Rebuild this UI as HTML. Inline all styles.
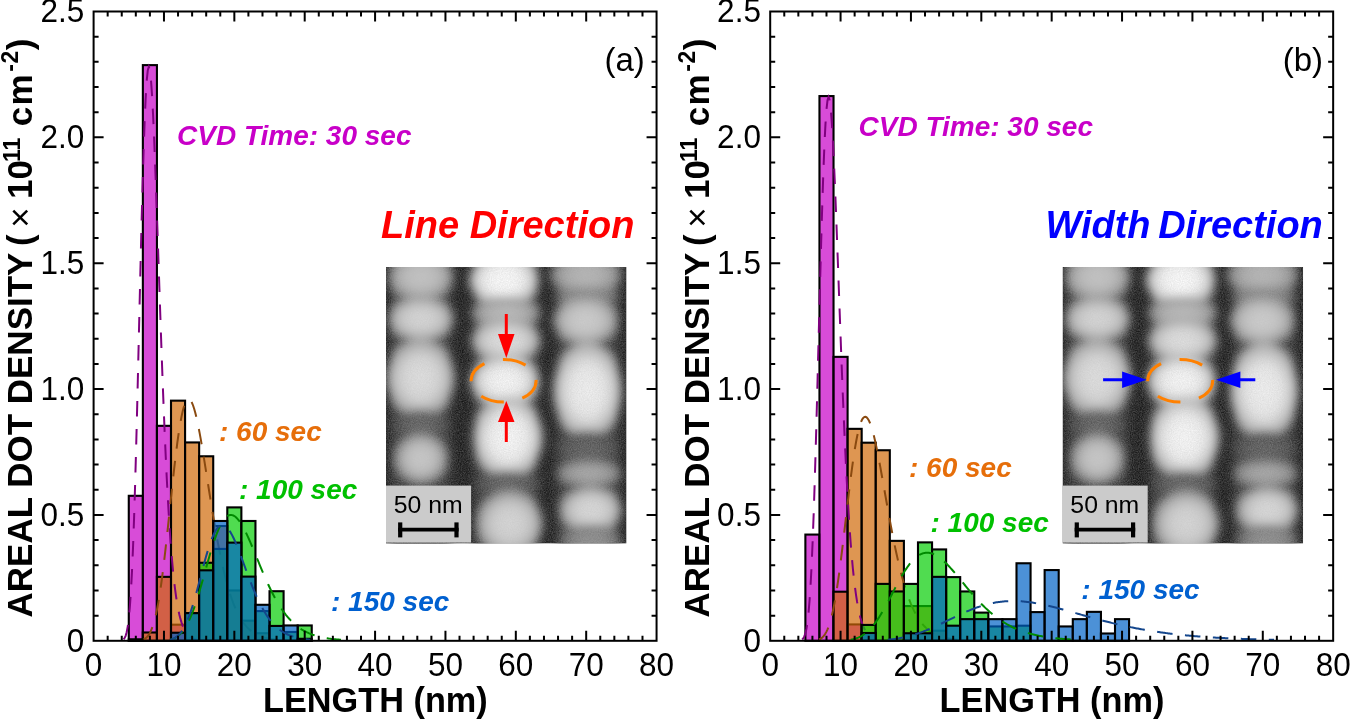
<!DOCTYPE html>
<html><head><meta charset="utf-8"><title>Areal dot density histograms</title>
<style>
html,body{margin:0;padding:0;background:#fff;}
body{width:1350px;height:719px;overflow:hidden;}
svg{display:block;font-family:"Liberation Sans",sans-serif;filter:blur(0.4px);}
</style></head><body>
<svg width="1350" height="719" viewBox="0 0 1350 719">
<defs>
<filter id="bl" x="-20%" y="-20%" width="140%" height="140%"><feGaussianBlur stdDeviation="5"/></filter>
<filter id="nz" x="0" y="0" width="100%" height="100%"><feTurbulence type="fractalNoise" baseFrequency="0.9" numOctaves="2" seed="3"/><feColorMatrix type="matrix" values="0 0 0 0 0.5  0 0 0 0 0.5  0 0 0 0 0.5  1.6 0 0 0 -0.3"/></filter>
<clipPath id="ic"><rect x="0" y="0" width="240.5" height="276.5"/></clipPath>
<g id="sem">
<radialGradient id="g0"><stop offset="0" stop-color="rgb(197,197,197)"/><stop offset="0.55" stop-color="rgb(185,185,185)"/><stop offset="1" stop-color="rgb(133,133,133)"/></radialGradient><radialGradient id="g1"><stop offset="0" stop-color="rgb(217,217,217)"/><stop offset="0.55" stop-color="rgb(205,205,205)"/><stop offset="1" stop-color="rgb(147,147,147)"/></radialGradient><radialGradient id="g2"><stop offset="0" stop-color="rgb(226,226,226)"/><stop offset="0.55" stop-color="rgb(214,214,214)"/><stop offset="1" stop-color="rgb(154,154,154)"/></radialGradient><radialGradient id="g3"><stop offset="0" stop-color="rgb(97,97,97)"/><stop offset="0.55" stop-color="rgb(85,85,85)"/><stop offset="1" stop-color="rgb(61,61,61)"/></radialGradient><radialGradient id="g4"><stop offset="0" stop-color="rgb(202,202,202)"/><stop offset="0.55" stop-color="rgb(190,190,190)"/><stop offset="1" stop-color="rgb(136,136,136)"/></radialGradient><radialGradient id="g5"><stop offset="0" stop-color="rgb(255,255,255)"/><stop offset="0.55" stop-color="rgb(245,245,245)"/><stop offset="1" stop-color="rgb(176,176,176)"/></radialGradient><radialGradient id="g6"><stop offset="0" stop-color="rgb(187,187,187)"/><stop offset="0.55" stop-color="rgb(175,175,175)"/><stop offset="1" stop-color="rgb(126,126,126)"/></radialGradient><radialGradient id="g7"><stop offset="0" stop-color="rgb(227,227,227)"/><stop offset="0.55" stop-color="rgb(215,215,215)"/><stop offset="1" stop-color="rgb(154,154,154)"/></radialGradient><radialGradient id="g8"><stop offset="0" stop-color="rgb(252,252,252)"/><stop offset="0.55" stop-color="rgb(240,240,240)"/><stop offset="1" stop-color="rgb(172,172,172)"/></radialGradient><radialGradient id="g9"><stop offset="0" stop-color="rgb(252,252,252)"/><stop offset="0.55" stop-color="rgb(240,240,240)"/><stop offset="1" stop-color="rgb(172,172,172)"/></radialGradient><radialGradient id="g10"><stop offset="0" stop-color="rgb(97,97,97)"/><stop offset="0.55" stop-color="rgb(85,85,85)"/><stop offset="1" stop-color="rgb(61,61,61)"/></radialGradient><radialGradient id="g11"><stop offset="0" stop-color="rgb(217,217,217)"/><stop offset="0.55" stop-color="rgb(205,205,205)"/><stop offset="1" stop-color="rgb(147,147,147)"/></radialGradient><radialGradient id="g12"><stop offset="0" stop-color="rgb(182,182,182)"/><stop offset="0.55" stop-color="rgb(170,170,170)"/><stop offset="1" stop-color="rgb(122,122,122)"/></radialGradient><radialGradient id="g13"><stop offset="0" stop-color="rgb(142,142,142)"/><stop offset="0.55" stop-color="rgb(130,130,130)"/><stop offset="1" stop-color="rgb(93,93,93)"/></radialGradient><radialGradient id="g14"><stop offset="0" stop-color="rgb(207,207,207)"/><stop offset="0.55" stop-color="rgb(195,195,195)"/><stop offset="1" stop-color="rgb(140,140,140)"/></radialGradient><radialGradient id="g15"><stop offset="0" stop-color="rgb(244,244,244)"/><stop offset="0.55" stop-color="rgb(232,232,232)"/><stop offset="1" stop-color="rgb(167,167,167)"/></radialGradient><radialGradient id="g16"><stop offset="0" stop-color="rgb(92,92,92)"/><stop offset="0.55" stop-color="rgb(80,80,80)"/><stop offset="1" stop-color="rgb(57,57,57)"/></radialGradient><radialGradient id="g17"><stop offset="0" stop-color="rgb(167,167,167)"/><stop offset="0.55" stop-color="rgb(155,155,155)"/><stop offset="1" stop-color="rgb(111,111,111)"/></radialGradient><radialGradient id="g18"><stop offset="0" stop-color="rgb(220,220,220)"/><stop offset="0.55" stop-color="rgb(208,208,208)"/><stop offset="1" stop-color="rgb(149,149,149)"/></radialGradient><radialGradient id="g19"><stop offset="0" stop-color="rgb(142,142,142)"/><stop offset="0.55" stop-color="rgb(130,130,130)"/><stop offset="1" stop-color="rgb(93,93,93)"/></radialGradient>
<rect x="0" y="0" width="240.5" height="276.5" fill="#151515"/>
<g filter="url(#bl)">
<rect x="4" y="-20" width="61" height="320" fill="#303030"/>
<rect x="88" y="-20" width="64" height="320" fill="#303030"/>
<rect x="171" y="-20" width="62" height="320" fill="#303030"/>
<ellipse cx="35" cy="10" rx="33" ry="24" fill="url(#g0)"/>
<ellipse cx="35" cy="52" rx="33" ry="22" fill="url(#g1)"/>
<ellipse cx="34.5" cy="111" rx="34.5" ry="39" fill="url(#g2)"/>
<ellipse cx="35" cy="157.5" rx="28" ry="14.5" fill="url(#g3)"/>
<ellipse cx="35" cy="191.5" rx="26" ry="24.5" fill="url(#g4)"/>
<ellipse cx="118" cy="13" rx="35" ry="27" fill="url(#g5)"/>
<ellipse cx="120" cy="46" rx="35" ry="16" fill="url(#g6)"/>
<ellipse cx="120" cy="73.5" rx="35" ry="21.5" fill="url(#g7)"/>
<ellipse cx="119" cy="114" rx="35" ry="26" fill="url(#g8)"/>
<ellipse cx="122" cy="170.5" rx="35" ry="40.5" fill="url(#g9)"/>
<ellipse cx="122" cy="217" rx="33" ry="13" fill="url(#g10)"/>
<ellipse cx="124" cy="256.5" rx="33" ry="32.5" fill="url(#g11)"/>
<ellipse cx="200" cy="8" rx="36" ry="22" fill="url(#g12)"/>
<ellipse cx="201" cy="29.5" rx="34" ry="7.5" fill="url(#g13)"/>
<ellipse cx="199.5" cy="53.5" rx="32.5" ry="24.5" fill="url(#g14)"/>
<ellipse cx="201.5" cy="123.5" rx="34.5" ry="47.5" fill="url(#g15)"/>
<ellipse cx="202" cy="182" rx="33" ry="18" fill="url(#g16)"/>
<ellipse cx="203" cy="206.5" rx="33" ry="13.5" fill="url(#g17)"/>
<ellipse cx="205" cy="243" rx="31" ry="23" fill="url(#g18)"/>
<ellipse cx="205" cy="273.5" rx="31" ry="15.5" fill="url(#g19)"/>
</g>
<rect x="0" y="0" width="240.5" height="276.5" filter="url(#nz)" opacity="0.3"/>
<rect x="0" y="218.6" width="85.1" height="57" fill="#cbcbcb"/>
<text x="42.2" y="246.2" text-anchor="middle" font-size="24.8">50 nm</text>
<path d="M12.1 262.7H72.6" stroke="#000" stroke-width="3.8"/><rect x="12.1" y="255.4" width="4.2" height="15"/><rect x="68.4" y="255.4" width="4.2" height="15"/>
</g>
</defs>
<rect width="1350" height="719" fill="#fff"/>
<rect x="128.78" y="495.81" width="14.07" height="144.99" fill="#c800c8" fill-opacity="0.7" stroke="#000" stroke-width="2.1"/>
<rect x="142.86" y="65.12" width="14.07" height="575.68" fill="#c800c8" fill-opacity="0.7" stroke="#000" stroke-width="2.1"/>
<rect x="156.93" y="425.83" width="14.07" height="214.97" fill="#c800c8" fill-opacity="0.7" stroke="#000" stroke-width="2.1"/>
<rect x="171.01" y="624.69" width="14.07" height="16.11" fill="#c800c8" fill-opacity="0.7" stroke="#000" stroke-width="2.1"/>
<rect x="128.78" y="639.29" width="14.07" height="1.51" fill="#d06908" fill-opacity="0.7" stroke="#000" stroke-width="2.1"/>
<rect x="142.86" y="632.49" width="14.07" height="8.31" fill="#d06908" fill-opacity="0.7" stroke="#000" stroke-width="2.1"/>
<rect x="156.93" y="576.86" width="14.07" height="63.94" fill="#d06908" fill-opacity="0.7" stroke="#000" stroke-width="2.1"/>
<rect x="171.01" y="400.66" width="14.07" height="240.14" fill="#d06908" fill-opacity="0.7" stroke="#000" stroke-width="2.1"/>
<rect x="185.08" y="442.44" width="14.07" height="198.36" fill="#d06908" fill-opacity="0.7" stroke="#000" stroke-width="2.1"/>
<rect x="199.15" y="456.29" width="14.07" height="184.51" fill="#d06908" fill-opacity="0.7" stroke="#000" stroke-width="2.1"/>
<rect x="213.23" y="526.02" width="14.07" height="114.78" fill="#d06908" fill-opacity="0.7" stroke="#000" stroke-width="2.1"/>
<rect x="227.3" y="590.46" width="14.07" height="50.34" fill="#d06908" fill-opacity="0.7" stroke="#000" stroke-width="2.1"/>
<rect x="241.38" y="620.66" width="14.07" height="20.14" fill="#d06908" fill-opacity="0.7" stroke="#000" stroke-width="2.1"/>
<rect x="255.45" y="633.25" width="14.07" height="7.55" fill="#d06908" fill-opacity="0.7" stroke="#000" stroke-width="2.1"/>
<polyline points="123.51,639.39 124.56,638.07 125.62,635.82 126.67,632.19 127.73,626.62 128.78,618.49 129.84,607.12 130.9,591.89 131.95,572.26 133.01,547.86 134.06,518.59 135.12,484.61 136.17,446.42 137.23,404.79 138.28,360.8 139.34,315.7 140.4,270.89 141.45,227.81 142.51,187.83 143.56,152.19 144.62,121.96 145.67,97.93 146.73,80.62 147.78,70.28 148.84,66.88 149.9,70.15 150.95,79.62 152.01,94.64 153.06,114.48 154.12,138.29 155.17,165.25 156.23,194.51 157.28,225.28 158.34,256.82 159.4,288.5 160.45,319.74 161.51,350.1 162.56,379.19 163.62,406.73 164.67,432.53 165.73,456.47 166.78,478.46 167.84,498.51 168.9,516.66 169.95,532.95 171.01,547.5 172.06,560.39 173.12,571.77 174.17,581.75 175.23,590.45 176.28,598.02 177.34,604.56 178.4,610.19 179.45,615.02 180.51,619.14 181.56,622.65 182.62,625.63 183.67,628.15 184.73,630.28 185.78,632.07 186.84,633.56 187.9,634.82 188.95,635.86 190.01,636.73 191.06,637.45 192.12,638.05 193.17,638.55 194.23,638.96 195.28,639.29 196.34,639.57" fill="none" stroke="#800080" stroke-width="2" stroke-dasharray="15.5 12.5"/>
<polyline points="143.56,639.41 144.62,638.87 145.67,638.16 146.73,637.25 147.78,636.1 148.84,634.67 149.9,632.91 150.95,630.79 152.01,628.25 153.06,625.26 154.12,621.77 155.17,617.77 156.23,613.2 157.28,608.07 158.34,602.36 159.4,596.05 160.45,589.18 161.51,581.74 162.56,573.78 163.62,565.33 164.67,556.44 165.73,547.17 166.78,537.59 167.84,527.78 168.9,517.81 169.95,507.77 171.01,497.74 172.06,487.82 173.12,478.09 174.17,468.64 175.23,459.55 176.28,450.89 177.34,442.74 178.4,435.16 179.45,428.22 180.51,421.95 181.56,416.39 182.62,411.59 183.67,407.56 184.73,404.32 185.78,401.87 186.84,400.2 187.9,399.32 188.95,399.19 190.01,399.8 191.06,401.12 192.12,403.11 193.17,405.74 194.23,408.96 195.28,412.72 196.34,416.99 197.4,421.71 198.45,426.84 199.51,432.32 200.56,438.11 201.62,444.17 202.67,450.44 203.73,456.88 204.78,463.45 205.84,470.11 206.9,476.82 207.95,483.55 209.01,490.27 210.06,496.94 211.12,503.54 212.17,510.04 213.23,516.43 214.28,522.69 215.34,528.79 216.4,534.73 217.45,540.49 218.51,546.06 219.56,551.44 220.62,556.62 221.67,561.6 222.73,566.37 223.78,570.94 224.84,575.3 225.9,579.45 226.95,583.4 228.01,587.15 229.06,590.71 230.12,594.08 231.17,597.26 232.23,600.27 233.28,603.1 234.34,605.76 235.4,608.26 236.45,610.61 237.51,612.82 238.56,614.88 239.62,616.81 240.67,618.61 241.73,620.29 242.78,621.86 243.84,623.32 244.9,624.67 245.95,625.94 247.01,627.11 248.06,628.19 249.12,629.2 250.17,630.14 251.23,631 252.28,631.8 253.34,632.54 254.4,633.22 255.45,633.85 256.51,634.43 257.56,634.96 258.62,635.45 259.67,635.91 260.73,636.32 261.78,636.71 262.84,637.06 263.9,637.38 264.95,637.68 266.01,637.95 267.06,638.2 268.12,638.43 269.17,638.64 270.23,638.83 271.28,639 272.34,639.16 273.4,639.31 274.45,639.44 275.51,639.56 276.56,639.67 277.62,639.78" fill="none" stroke="#8a4a10" stroke-width="2" stroke-dasharray="15.5 12.5"/>
<rect x="185.08" y="613.11" width="14.07" height="27.69" fill="#05cd05" fill-opacity="0.7" stroke="#000" stroke-width="2.1"/>
<rect x="199.15" y="562.77" width="14.07" height="78.03" fill="#05cd05" fill-opacity="0.7" stroke="#000" stroke-width="2.1"/>
<rect x="213.23" y="548.92" width="14.07" height="91.88" fill="#05cd05" fill-opacity="0.7" stroke="#000" stroke-width="2.1"/>
<rect x="227.3" y="507.39" width="14.07" height="133.41" fill="#05cd05" fill-opacity="0.7" stroke="#000" stroke-width="2.1"/>
<rect x="241.38" y="520.98" width="14.07" height="119.82" fill="#05cd05" fill-opacity="0.7" stroke="#000" stroke-width="2.1"/>
<rect x="255.45" y="611.1" width="14.07" height="29.7" fill="#05cd05" fill-opacity="0.7" stroke="#000" stroke-width="2.1"/>
<rect x="269.52" y="591.21" width="14.07" height="49.59" fill="#05cd05" fill-opacity="0.7" stroke="#000" stroke-width="2.1"/>
<rect x="283.6" y="631.99" width="14.07" height="8.81" fill="#05cd05" fill-opacity="0.7" stroke="#000" stroke-width="2.1"/>
<rect x="297.67" y="625.45" width="14.07" height="15.35" fill="#05cd05" fill-opacity="0.7" stroke="#000" stroke-width="2.1"/>
<rect x="171.01" y="632.74" width="14.07" height="8.06" fill="#0062c6" fill-opacity="0.7" stroke="#000" stroke-width="2.1"/>
<rect x="185.08" y="613.11" width="14.07" height="27.69" fill="#0062c6" fill-opacity="0.7" stroke="#000" stroke-width="2.1"/>
<rect x="199.15" y="570.32" width="14.07" height="70.48" fill="#0062c6" fill-opacity="0.7" stroke="#000" stroke-width="2.1"/>
<rect x="213.23" y="520.98" width="14.07" height="119.82" fill="#0062c6" fill-opacity="0.7" stroke="#000" stroke-width="2.1"/>
<rect x="227.3" y="542.63" width="14.07" height="98.17" fill="#0062c6" fill-opacity="0.7" stroke="#000" stroke-width="2.1"/>
<rect x="241.38" y="576.61" width="14.07" height="64.19" fill="#0062c6" fill-opacity="0.7" stroke="#000" stroke-width="2.1"/>
<rect x="255.45" y="604.8" width="14.07" height="36" fill="#0062c6" fill-opacity="0.7" stroke="#000" stroke-width="2.1"/>
<rect x="269.52" y="625.95" width="14.07" height="14.85" fill="#0062c6" fill-opacity="0.7" stroke="#000" stroke-width="2.1"/>
<rect x="283.6" y="625.45" width="14.07" height="15.35" fill="#0062c6" fill-opacity="0.7" stroke="#000" stroke-width="2.1"/>
<rect x="297.67" y="638.79" width="14.07" height="2.01" fill="#0062c6" fill-opacity="0.7" stroke="#000" stroke-width="2.1"/>
<polyline points="169.95,639.72 171.01,639.46 172.06,639.14 173.12,638.76 174.17,638.32 175.23,637.8 176.28,637.2 177.34,636.51 178.4,635.72 179.45,634.82 180.51,633.8 181.56,632.66 182.62,631.39 183.67,629.99 184.73,628.44 185.78,626.74 186.84,624.89 187.9,622.88 188.95,620.72 190.01,618.4 191.06,615.92 192.12,613.29 193.17,610.51 194.23,607.59 195.28,604.53 196.34,601.34 197.4,598.04 198.45,594.62 199.51,591.11 200.56,587.52 201.62,583.86 202.67,580.15 203.73,576.4 204.78,572.63 205.84,568.86 206.9,565.1 207.95,561.38 209.01,557.7 210.06,554.09 211.12,550.57 212.17,547.14 213.23,543.83 214.28,540.64 215.34,537.6 216.4,534.71 217.45,531.99 218.51,529.45 219.56,527.09 220.62,524.93 221.67,522.97 222.73,521.22 223.78,519.68 224.84,518.36 225.9,517.25 226.95,516.36 228.01,515.69 229.06,515.23 230.12,514.99 231.17,514.95 232.23,515.12 233.28,515.49 234.34,516.05 235.4,516.8 236.45,517.73 237.51,518.82 238.56,520.08 239.62,521.49 240.67,523.05 241.73,524.74 242.78,526.55 243.84,528.48 244.9,530.51 245.95,532.64 247.01,534.85 248.06,537.14 249.12,539.49 250.17,541.9 251.23,544.36 252.28,546.86 253.34,549.39 254.4,551.94 255.45,554.51 256.51,557.09 257.56,559.66 258.62,562.24 259.67,564.8 260.73,567.34 261.78,569.86 262.84,572.36 263.9,574.82 264.95,577.25 266.01,579.64 267.06,581.98 268.12,584.28 269.17,586.54 270.23,588.74 271.28,590.89 272.34,592.98 273.4,595.02 274.45,597.01 275.51,598.93 276.56,600.8 277.62,602.61 278.67,604.36 279.73,606.05 280.78,607.69 281.84,609.27 282.9,610.79 283.95,612.25 285.01,613.66 286.06,615.01 287.12,616.31 288.17,617.55 289.23,618.75 290.28,619.89 291.34,620.99 292.4,622.03 293.45,623.03 294.51,623.99 295.56,624.9 296.62,625.77 297.67,626.6 298.73,627.38 299.78,628.13 300.84,628.85 301.9,629.53 302.95,630.17 304.01,630.78 305.06,631.36 306.12,631.91 307.17,632.43 308.23,632.92 309.28,633.39 310.34,633.83 311.4,634.25 312.45,634.65 313.51,635.02 314.56,635.37 315.62,635.7 316.67,636.02 317.73,636.31 318.78,636.59 319.84,636.85 320.9,637.1 321.95,637.33 323.01,637.55 324.06,637.76 325.12,637.95 326.17,638.14 327.23,638.31 328.28,638.47 329.34,638.62 330.4,638.76 331.45,638.89 332.51,639.02 333.56,639.14 334.62,639.25 335.67,639.35 336.73,639.45 337.78,639.54 338.84,639.62 339.89,639.7 340.95,639.77" fill="none" stroke="#008a00" stroke-width="2" stroke-dasharray="15.5 12.5"/>
<polyline points="169.95,639.78 171.01,639.49 172.06,639.14 173.12,638.72 174.17,638.22 175.23,637.62 176.28,636.92 177.34,636.1 178.4,635.15 179.45,634.06 180.51,632.82 181.56,631.42 182.62,629.85 183.67,628.11 184.73,626.17 185.78,624.05 186.84,621.73 187.9,619.23 188.95,616.53 190.01,613.64 191.06,610.57 192.12,607.33 193.17,603.93 194.23,600.38 195.28,596.7 196.34,592.9 197.4,589.01 198.45,585.05 199.51,581.04 200.56,577 201.62,572.96 202.67,568.94 203.73,564.98 204.78,561.08 205.84,557.29 206.9,553.62 207.95,550.1 209.01,546.74 210.06,543.58 211.12,540.62 212.17,537.89 213.23,535.39 214.28,533.15 215.34,531.17 216.4,529.45 217.45,528.02 218.51,526.86 219.56,525.98 220.62,525.39 221.67,525.07 222.73,525.02 223.78,525.25 224.84,525.73 225.9,526.46 226.95,527.42 228.01,528.62 229.06,530.03 230.12,531.64 231.17,533.43 232.23,535.4 233.28,537.52 234.34,539.79 235.4,542.17 236.45,544.67 237.51,547.27 238.56,549.94 239.62,552.68 240.67,555.48 241.73,558.31 242.78,561.17 243.84,564.04 244.9,566.92 245.95,569.79 247.01,572.64 248.06,575.46 249.12,578.25 250.17,581 251.23,583.7 252.28,586.35 253.34,588.94 254.4,591.46 255.45,593.91 256.51,596.3 257.56,598.6 258.62,600.84 259.67,602.99 260.73,605.07 261.78,607.06 262.84,608.98 263.9,610.82 264.95,612.57 266.01,614.25 267.06,615.86 268.12,617.38 269.17,618.83 270.23,620.22 271.28,621.53 272.34,622.77 273.4,623.94 274.45,625.05 275.51,626.1 276.56,627.09 277.62,628.03 278.67,628.9 279.73,629.73 280.78,630.51 281.84,631.23 282.9,631.92 283.95,632.55 285.01,633.15 286.06,633.71 287.12,634.23 288.17,634.72 289.23,635.18 290.28,635.6 291.34,636 292.4,636.36 293.45,636.7 294.51,637.02 295.56,637.32 296.62,637.59 297.67,637.84 298.73,638.08 299.78,638.29 300.84,638.49 301.9,638.68 302.95,638.85 304.01,639.01 305.06,639.16 306.12,639.29 307.17,639.42 308.23,639.53 309.28,639.64 310.34,639.74" fill="none" stroke="#14468c" stroke-width="2" stroke-dasharray="15.5 12.5"/>
<path d="M107.67 640.8v-5 M107.67 11.5v5 M121.75 640.8v-5 M121.75 11.5v5 M135.82 640.8v-5 M135.82 11.5v5 M149.9 640.8v-5 M149.9 11.5v5 M163.97 640.8v-10 M163.97 11.5v10 M178.04 640.8v-5 M178.04 11.5v5 M192.12 640.8v-5 M192.12 11.5v5 M206.19 640.8v-5 M206.19 11.5v5 M220.27 640.8v-5 M220.27 11.5v5 M234.34 640.8v-10 M234.34 11.5v10 M248.41 640.8v-5 M248.41 11.5v5 M262.49 640.8v-5 M262.49 11.5v5 M276.56 640.8v-5 M276.56 11.5v5 M290.64 640.8v-5 M290.64 11.5v5 M304.71 640.8v-10 M304.71 11.5v10 M318.78 640.8v-5 M318.78 11.5v5 M332.86 640.8v-5 M332.86 11.5v5 M346.93 640.8v-5 M346.93 11.5v5 M361.01 640.8v-5 M361.01 11.5v5 M375.08 640.8v-10 M375.08 11.5v10 M389.15 640.8v-5 M389.15 11.5v5 M403.23 640.8v-5 M403.23 11.5v5 M417.3 640.8v-5 M417.3 11.5v5 M431.38 640.8v-5 M431.38 11.5v5 M445.45 640.8v-10 M445.45 11.5v10 M459.52 640.8v-5 M459.52 11.5v5 M473.6 640.8v-5 M473.6 11.5v5 M487.67 640.8v-5 M487.67 11.5v5 M501.75 640.8v-5 M501.75 11.5v5 M515.82 640.8v-10 M515.82 11.5v10 M529.89 640.8v-5 M529.89 11.5v5 M543.97 640.8v-5 M543.97 11.5v5 M558.04 640.8v-5 M558.04 11.5v5 M572.12 640.8v-5 M572.12 11.5v5 M586.19 640.8v-10 M586.19 11.5v10 M600.26 640.8v-5 M600.26 11.5v5 M614.34 640.8v-5 M614.34 11.5v5 M628.41 640.8v-5 M628.41 11.5v5 M642.49 640.8v-5 M642.49 11.5v5 M93.6 615.63h5 M656.56 615.63h-5 M93.6 590.46h5 M656.56 590.46h-5 M93.6 565.28h5 M656.56 565.28h-5 M93.6 540.11h5 M656.56 540.11h-5 M93.6 514.94h10 M656.56 514.94h-10 M93.6 489.77h5 M656.56 489.77h-5 M93.6 464.6h5 M656.56 464.6h-5 M93.6 439.42h5 M656.56 439.42h-5 M93.6 414.25h5 M656.56 414.25h-5 M93.6 389.08h10 M656.56 389.08h-10 M93.6 363.91h5 M656.56 363.91h-5 M93.6 338.74h5 M656.56 338.74h-5 M93.6 313.56h5 M656.56 313.56h-5 M93.6 288.39h5 M656.56 288.39h-5 M93.6 263.22h10 M656.56 263.22h-10 M93.6 238.05h5 M656.56 238.05h-5 M93.6 212.88h5 M656.56 212.88h-5 M93.6 187.7h5 M656.56 187.7h-5 M93.6 162.53h5 M656.56 162.53h-5 M93.6 137.36h10 M656.56 137.36h-10 M93.6 112.19h5 M656.56 112.19h-5 M93.6 87.02h5 M656.56 87.02h-5 M93.6 61.84h5 M656.56 61.84h-5 M93.6 36.67h5 M656.56 36.67h-5" stroke="#000" stroke-width="2" fill="none"/>
<rect x="93.6" y="11.5" width="562.96" height="629.3" fill="none" stroke="#000" stroke-width="2"/>
<g font-size="31.5"><text transform="translate(93.6,676) scale(1,1.07)" text-anchor="middle">0</text><text transform="translate(163.97,676) scale(1,1.07)" text-anchor="middle">10</text><text transform="translate(234.34,676) scale(1,1.07)" text-anchor="middle">20</text><text transform="translate(304.71,676) scale(1,1.07)" text-anchor="middle">30</text><text transform="translate(375.08,676) scale(1,1.07)" text-anchor="middle">40</text><text transform="translate(445.45,676) scale(1,1.07)" text-anchor="middle">50</text><text transform="translate(515.82,676) scale(1,1.07)" text-anchor="middle">60</text><text transform="translate(586.19,676) scale(1,1.07)" text-anchor="middle">70</text><text transform="translate(656.56,676) scale(1,1.07)" text-anchor="middle">80</text><text transform="translate(84.3,651.5) scale(1,1.07)" text-anchor="end">0</text><text transform="translate(84.3,525.64) scale(1,1.07)" text-anchor="end">0.5</text><text transform="translate(84.3,399.78) scale(1,1.07)" text-anchor="end">1.0</text><text transform="translate(84.3,273.92) scale(1,1.07)" text-anchor="end">1.5</text><text transform="translate(84.3,148.06) scale(1,1.07)" text-anchor="end">2.0</text><text transform="translate(84.3,22.2) scale(1,1.07)" text-anchor="end">2.5</text></g>
<text transform="translate(375.38,711.6) scale(1,1.035)" text-anchor="middle" font-weight="bold" font-size="34.3">LENGTH (nm)</text>
<text transform="translate(32,617.5) rotate(-90)" font-weight="bold" font-size="35">AREAL DOT DENSITY <tspan dx="-2.5">(</tspan><tspan font-weight="normal" dx="6.5">×</tspan><tspan dx="8.3">10</tspan><tspan font-size="23" dy="-12" dx="-1.8">11</tspan><tspan dy="12" dx="1.5"> c</tspan><tspan dx="1.5">m</tspan><tspan font-size="23" dy="-14" dx="2.6">-</tspan><tspan font-size="23" dx="0.5">2</tspan><tspan dy="14" dx="0.5">)</tspan></text>
<g transform="translate(386,267)" clip-path="url(#ic)">
<use href="#sem"/>
<ellipse cx="117.6" cy="113.8" rx="32.5" ry="21.3" fill="none" stroke="#ff8000" stroke-width="3" stroke-dasharray="23.5 18.85"/>
<path d="M120.3 47V68" stroke="#ff0000" stroke-width="3"/>
<path d="M112 67L128.5 67L120.3 91Z" fill="#ff0000"/>
<path d="M120.3 155V175" stroke="#ff0000" stroke-width="3"/>
<path d="M112 155L128.5 155L120.3 134Z" fill="#ff0000"/>
</g>
<text x="604.5" y="70.8" font-size="33">(a)</text>
<text x="177" y="145.2" font-size="28" font-weight="bold" font-style="italic" fill="#c800c8">CVD Time: 30 sec</text>
<text x="381" y="238" font-size="38" font-weight="bold" font-style="italic" fill="#ff0000">Line Direction</text>
<text x="219" y="440.9" font-size="28" font-weight="bold" font-style="italic" fill="#e66e0a">: 60 sec</text>
<text x="239" y="499" font-size="28" font-weight="bold" font-style="italic" fill="#00c000">: 100 sec</text>
<text x="331" y="611.1" font-size="28" font-weight="bold" font-style="italic" fill="#0060d0">: 150 sec</text>
<rect x="805.38" y="534.57" width="14.07" height="106.23" fill="#c800c8" fill-opacity="0.7" stroke="#000" stroke-width="2.1"/>
<rect x="819.46" y="96.08" width="14.07" height="544.72" fill="#c800c8" fill-opacity="0.7" stroke="#000" stroke-width="2.1"/>
<rect x="833.53" y="356.86" width="14.07" height="283.94" fill="#c800c8" fill-opacity="0.7" stroke="#000" stroke-width="2.1"/>
<rect x="847.61" y="624.44" width="14.07" height="16.36" fill="#c800c8" fill-opacity="0.7" stroke="#000" stroke-width="2.1"/>
<rect x="833.53" y="591.71" width="14.07" height="49.09" fill="#d06908" fill-opacity="0.7" stroke="#000" stroke-width="2.1"/>
<rect x="847.61" y="428.85" width="14.07" height="211.95" fill="#d06908" fill-opacity="0.7" stroke="#000" stroke-width="2.1"/>
<rect x="861.68" y="442.7" width="14.07" height="198.1" fill="#d06908" fill-opacity="0.7" stroke="#000" stroke-width="2.1"/>
<rect x="875.75" y="450.25" width="14.07" height="190.55" fill="#d06908" fill-opacity="0.7" stroke="#000" stroke-width="2.1"/>
<rect x="889.83" y="540.87" width="14.07" height="99.93" fill="#d06908" fill-opacity="0.7" stroke="#000" stroke-width="2.1"/>
<rect x="903.9" y="606.06" width="14.07" height="34.74" fill="#d06908" fill-opacity="0.7" stroke="#000" stroke-width="2.1"/>
<rect x="917.98" y="606.06" width="14.07" height="34.74" fill="#d06908" fill-opacity="0.7" stroke="#000" stroke-width="2.1"/>
<rect x="932.05" y="630.73" width="14.07" height="10.07" fill="#d06908" fill-opacity="0.7" stroke="#000" stroke-width="2.1"/>
<polyline points="802.22,639.5 803.27,638.35 804.33,636.43 805.39,633.36 806.44,628.7 807.5,621.94 808.55,612.51 809.61,599.87 810.66,583.54 811.72,563.14 812.77,538.48 813.83,509.58 814.88,476.73 815.94,440.44 817,401.49 818.05,360.85 819.11,319.62 820.16,279.02 821.22,240.26 822.27,204.49 823.33,172.75 824.38,145.9 825.44,124.59 826.5,109.26 827.55,100.1 828.61,97.08 829.66,99.99 830.72,108.42 831.77,121.83 832.83,139.58 833.88,160.99 834.94,185.31 836,211.84 837.05,239.87 838.11,268.76 839.16,297.93 840.22,326.86 841.27,355.14 842.33,382.4 843.38,408.38 844.44,432.87 845.5,455.73 846.55,476.89 847.61,496.3 848.66,513.98 849.72,529.97 850.77,544.34 851.83,557.17 852.88,568.57 853.94,578.63 855,587.47 856.05,595.2 857.11,601.94 858.16,607.77 859.22,612.81 860.27,617.15 861.33,620.86 862.38,624.04 863.44,626.74 864.5,629.03 865.55,630.97 866.61,632.61 867.66,633.99 868.72,635.15 869.77,636.12 870.83,636.93 871.88,637.6 872.94,638.16 874,638.63 875.05,639.02 876.11,639.34 877.16,639.6" fill="none" stroke="#800080" stroke-width="2" stroke-dasharray="15.5 12.5"/>
<polyline points="819.11,639.49 820.16,638.99 821.22,638.34 822.27,637.5 823.33,636.45 824.38,635.14 825.44,633.55 826.5,631.62 827.55,629.33 828.61,626.64 829.66,623.51 830.72,619.91 831.77,615.83 832.83,611.25 833.88,606.14 834.94,600.52 836,594.39 837.05,587.77 838.11,580.67 839.16,573.13 840.22,565.2 841.27,556.92 842.33,548.35 843.38,539.55 844.44,530.59 845.5,521.54 846.55,512.48 847.61,503.47 848.66,494.6 849.72,485.94 850.77,477.55 851.83,469.52 852.88,461.89 853.94,454.74 855,448.1 856.05,442.03 857.11,436.56 858.16,431.73 859.22,427.56 860.27,424.06 861.33,421.25 862.38,419.12 863.44,417.68 864.5,416.91 865.55,416.8 866.61,417.33 867.66,418.48 868.72,420.2 869.77,422.48 870.83,425.27 871.88,428.54 872.94,432.25 874,436.36 875.05,440.83 876.11,445.62 877.16,450.68 878.22,455.99 879.27,461.5 880.33,467.17 881.38,472.96 882.44,478.86 883.5,484.81 884.55,490.79 885.61,496.78 886.66,502.75 887.72,508.67 888.77,514.53 889.83,520.3 890.88,525.96 891.94,531.51 893,536.93 894.05,542.2 895.11,547.33 896.16,552.29 897.22,557.09 898.27,561.72 899.33,566.18 900.38,570.46 901.44,574.57 902.5,578.5 903.55,582.25 904.61,585.83 905.66,589.24 906.72,592.49 907.77,595.57 908.83,598.49 909.88,601.25 910.94,603.87 912,606.33 913.05,608.66 914.11,610.86 915.16,612.92 916.22,614.86 917.27,616.69 918.33,618.4 919.38,620 920.44,621.5 921.5,622.9 922.55,624.21 923.61,625.44 924.66,626.58 925.72,627.64 926.77,628.63 927.83,629.56 928.88,630.42 929.94,631.21 931,631.95 932.05,632.64 933.11,633.28 934.16,633.87 935.22,634.42 936.27,634.92 937.33,635.39 938.38,635.82 939.44,636.22 940.5,636.59 941.55,636.93 942.61,637.25 943.66,637.54 944.72,637.81 945.77,638.05 946.83,638.28 947.88,638.49 948.94,638.68 950,638.86 951.05,639.02 952.11,639.17 953.16,639.31 954.22,639.44 955.27,639.55 956.33,639.66 957.38,639.75" fill="none" stroke="#8a4a10" stroke-width="2" stroke-dasharray="15.5 12.5"/>
<rect x="861.68" y="624.94" width="14.07" height="15.86" fill="#05cd05" fill-opacity="0.7" stroke="#000" stroke-width="2.1"/>
<rect x="875.75" y="583.91" width="14.07" height="56.89" fill="#05cd05" fill-opacity="0.7" stroke="#000" stroke-width="2.1"/>
<rect x="889.83" y="591.46" width="14.07" height="49.34" fill="#05cd05" fill-opacity="0.7" stroke="#000" stroke-width="2.1"/>
<rect x="903.9" y="583.91" width="14.07" height="56.89" fill="#05cd05" fill-opacity="0.7" stroke="#000" stroke-width="2.1"/>
<rect x="917.98" y="542.38" width="14.07" height="98.42" fill="#05cd05" fill-opacity="0.7" stroke="#000" stroke-width="2.1"/>
<rect x="932.05" y="549.43" width="14.07" height="91.37" fill="#05cd05" fill-opacity="0.7" stroke="#000" stroke-width="2.1"/>
<rect x="946.12" y="577.11" width="14.07" height="63.69" fill="#05cd05" fill-opacity="0.7" stroke="#000" stroke-width="2.1"/>
<rect x="960.2" y="591.46" width="14.07" height="49.34" fill="#05cd05" fill-opacity="0.7" stroke="#000" stroke-width="2.1"/>
<rect x="974.27" y="612.61" width="14.07" height="28.19" fill="#05cd05" fill-opacity="0.7" stroke="#000" stroke-width="2.1"/>
<rect x="988.35" y="626.45" width="14.07" height="14.35" fill="#05cd05" fill-opacity="0.7" stroke="#000" stroke-width="2.1"/>
<rect x="1002.42" y="626.45" width="14.07" height="14.35" fill="#05cd05" fill-opacity="0.7" stroke="#000" stroke-width="2.1"/>
<rect x="1016.5" y="625.7" width="14.07" height="15.1" fill="#05cd05" fill-opacity="0.7" stroke="#000" stroke-width="2.1"/>
<rect x="861.68" y="633" width="14.07" height="7.8" fill="#0062c6" fill-opacity="0.7" stroke="#000" stroke-width="2.1"/>
<rect x="903.9" y="633.25" width="14.07" height="7.55" fill="#0062c6" fill-opacity="0.7" stroke="#000" stroke-width="2.1"/>
<rect x="917.98" y="633.25" width="14.07" height="7.55" fill="#0062c6" fill-opacity="0.7" stroke="#000" stroke-width="2.1"/>
<rect x="932.05" y="576.86" width="14.07" height="63.94" fill="#0062c6" fill-opacity="0.7" stroke="#000" stroke-width="2.1"/>
<rect x="946.12" y="625.7" width="14.07" height="15.1" fill="#0062c6" fill-opacity="0.7" stroke="#000" stroke-width="2.1"/>
<rect x="960.2" y="619.15" width="14.07" height="21.65" fill="#0062c6" fill-opacity="0.7" stroke="#000" stroke-width="2.1"/>
<rect x="974.27" y="619.15" width="14.07" height="21.65" fill="#0062c6" fill-opacity="0.7" stroke="#000" stroke-width="2.1"/>
<rect x="988.35" y="619.15" width="14.07" height="21.65" fill="#0062c6" fill-opacity="0.7" stroke="#000" stroke-width="2.1"/>
<rect x="1002.42" y="619.15" width="14.07" height="21.65" fill="#0062c6" fill-opacity="0.7" stroke="#000" stroke-width="2.1"/>
<rect x="1016.5" y="563.27" width="14.07" height="77.53" fill="#0062c6" fill-opacity="0.7" stroke="#000" stroke-width="2.1"/>
<rect x="1030.57" y="612.1" width="14.07" height="28.7" fill="#0062c6" fill-opacity="0.7" stroke="#000" stroke-width="2.1"/>
<rect x="1044.64" y="570.07" width="14.07" height="70.73" fill="#0062c6" fill-opacity="0.7" stroke="#000" stroke-width="2.1"/>
<rect x="1058.72" y="626.45" width="14.07" height="14.35" fill="#0062c6" fill-opacity="0.7" stroke="#000" stroke-width="2.1"/>
<rect x="1072.79" y="619.15" width="14.07" height="21.65" fill="#0062c6" fill-opacity="0.7" stroke="#000" stroke-width="2.1"/>
<rect x="1086.87" y="611.85" width="14.07" height="28.95" fill="#0062c6" fill-opacity="0.7" stroke="#000" stroke-width="2.1"/>
<rect x="1100.94" y="633.5" width="14.07" height="7.3" fill="#0062c6" fill-opacity="0.7" stroke="#000" stroke-width="2.1"/>
<rect x="1115.01" y="619.15" width="14.07" height="21.65" fill="#0062c6" fill-opacity="0.7" stroke="#000" stroke-width="2.1"/>
<polyline points="850.77,639.71 851.83,639.5 852.88,639.27 853.94,639.01 855,638.71 856.05,638.38 857.11,638 858.16,637.58 859.22,637.12 860.27,636.6 861.33,636.04 862.38,635.42 863.44,634.74 864.5,634 865.55,633.21 866.61,632.35 867.66,631.43 868.72,630.44 869.77,629.38 870.83,628.26 871.88,627.08 872.94,625.82 874,624.5 875.05,623.12 876.11,621.67 877.16,620.15 878.22,618.58 879.27,616.95 880.33,615.27 881.38,613.53 882.44,611.74 883.5,609.91 884.55,608.04 885.61,606.13 886.66,604.19 887.72,602.23 888.77,600.24 889.83,598.23 890.88,596.21 891.94,594.19 893,592.16 894.05,590.14 895.11,588.12 896.16,586.13 897.22,584.15 898.27,582.19 899.33,580.27 900.38,578.39 901.44,576.54 902.5,574.74 903.55,572.98 904.61,571.29 905.66,569.65 906.72,568.07 907.77,566.55 908.83,565.11 909.88,563.73 910.94,562.43 912,561.2 913.05,560.06 914.11,558.99 915.16,558 916.22,557.1 917.27,556.28 918.33,555.55 919.38,554.9 920.44,554.33 921.5,553.85 922.55,553.46 923.61,553.14 924.66,552.92 925.72,552.77 926.77,552.7 927.83,552.72 928.88,552.81 929.94,552.97 931,553.21 932.05,553.53 933.11,553.91 934.16,554.36 935.22,554.87 936.27,555.45 937.33,556.08 938.38,556.78 939.44,557.53 940.5,558.33 941.55,559.18 942.61,560.07 943.66,561.01 944.72,561.99 945.77,563.01 946.83,564.07 947.88,565.16 948.94,566.27 950,567.42 951.05,568.59 952.11,569.78 953.16,570.99 954.22,572.22 955.27,573.47 956.33,574.72 957.38,575.99 958.44,577.27 959.5,578.55 960.55,579.84 961.61,581.13 962.66,582.42 963.72,583.71 964.77,585 965.83,586.28 966.88,587.56 967.94,588.83 969,590.09 970.05,591.35 971.11,592.59 972.16,593.82 973.22,595.04 974.27,596.24 975.33,597.43 976.38,598.6 977.44,599.76 978.5,600.9 979.55,602.02 980.61,603.12 981.66,604.21 982.72,605.28 983.77,606.32 984.83,607.35 985.88,608.36 986.94,609.35 988,610.31 989.05,611.26 990.11,612.18 991.16,613.09 992.22,613.97 993.27,614.84 994.33,615.68 995.38,616.5 996.44,617.31 997.5,618.09 998.55,618.85 999.61,619.59 1000.66,620.31 1001.72,621.02 1002.77,621.7 1003.83,622.36 1004.88,623.01 1005.94,623.64 1007,624.25 1008.05,624.84 1009.11,625.41 1010.16,625.97 1011.22,626.5 1012.27,627.03 1013.33,627.53 1014.38,628.02 1015.44,628.5 1016.49,628.96 1017.55,629.4 1018.61,629.83 1019.66,630.25 1020.72,630.65 1021.77,631.04 1022.83,631.41 1023.88,631.78 1024.94,632.13 1025.99,632.46 1027.05,632.79 1028.11,633.1 1029.16,633.41 1030.22,633.7 1031.27,633.98 1032.33,634.26 1033.38,634.52 1034.44,634.77 1035.49,635.01 1036.55,635.25 1037.61,635.47 1038.66,635.69 1039.72,635.9 1040.77,636.1 1041.83,636.29 1042.88,636.48 1043.94,636.66 1044.99,636.83 1046.05,637 1047.11,637.16 1048.16,637.31 1049.22,637.46 1050.27,637.6 1051.33,637.73 1052.38,637.86 1053.44,637.99 1054.49,638.11 1055.55,638.22 1056.61,638.33 1057.66,638.44 1058.72,638.54 1059.77,638.64 1060.83,638.73 1061.88,638.82 1062.94,638.91 1063.99,638.99 1065.05,639.07 1066.11,639.14 1067.16,639.22 1068.22,639.28 1069.27,639.35 1070.33,639.42 1071.38,639.48 1072.44,639.53 1073.49,639.59 1074.55,639.64 1075.61,639.7 1076.66,639.74 1077.72,639.79" fill="none" stroke="#008a00" stroke-width="2" stroke-dasharray="15.5 12.5"/>
<polyline points="887.72,639.72 888.77,639.63 889.83,639.52 890.88,639.41 891.94,639.29 893,639.16 894.05,639.02 895.11,638.88 896.16,638.72 897.22,638.56 898.27,638.39 899.33,638.22 900.38,638.03 901.44,637.83 902.5,637.63 903.55,637.41 904.61,637.18 905.66,636.95 906.72,636.7 907.77,636.45 908.83,636.18 909.88,635.91 910.94,635.62 912,635.33 913.05,635.02 914.11,634.71 915.16,634.38 916.22,634.04 917.27,633.7 918.33,633.34 919.38,632.98 920.44,632.61 921.5,632.22 922.55,631.83 923.61,631.43 924.66,631.02 925.72,630.6 926.77,630.17 927.83,629.74 928.88,629.29 929.94,628.84 931,628.39 932.05,627.92 933.11,627.45 934.16,626.97 935.22,626.49 936.27,626.01 937.33,625.51 938.38,625.02 939.44,624.52 940.5,624.01 941.55,623.5 942.61,622.99 943.66,622.48 944.72,621.96 945.77,621.45 946.83,620.93 947.88,620.41 948.94,619.89 950,619.38 951.05,618.86 952.11,618.34 953.16,617.83 954.22,617.31 955.27,616.8 956.33,616.29 957.38,615.79 958.44,615.29 959.5,614.79 960.55,614.3 961.61,613.81 962.66,613.33 963.72,612.85 964.77,612.38 965.83,611.91 966.88,611.45 967.94,611 969,610.56 970.05,610.12 971.11,609.69 972.16,609.27 973.22,608.86 974.27,608.46 975.33,608.07 976.38,607.68 977.44,607.31 978.5,606.94 979.55,606.59 980.61,606.24 981.66,605.9 982.72,605.58 983.77,605.27 984.83,604.96 985.88,604.67 986.94,604.39 988,604.12 989.05,603.86 990.11,603.61 991.16,603.37 992.22,603.15 993.27,602.94 994.33,602.73 995.38,602.54 996.44,602.36 997.5,602.2 998.55,602.04 999.61,601.89 1000.66,601.76 1001.72,601.64 1002.77,601.53 1003.83,601.43 1004.88,601.34 1005.94,601.26 1007,601.2 1008.05,601.14 1009.11,601.1 1010.16,601.07 1011.22,601.04 1012.27,601.03 1013.33,601.03 1014.38,601.04 1015.44,601.06 1016.49,601.08 1017.55,601.12 1018.61,601.17 1019.66,601.23 1020.72,601.3 1021.77,601.37 1022.83,601.46 1023.88,601.55 1024.94,601.65 1025.99,601.77 1027.05,601.89 1028.11,602.01 1029.16,602.15 1030.22,602.29 1031.27,602.44 1032.33,602.6 1033.38,602.77 1034.44,602.94 1035.49,603.12 1036.55,603.3 1037.61,603.5 1038.66,603.69 1039.72,603.9 1040.77,604.11 1041.83,604.32 1042.88,604.54 1043.94,604.77 1044.99,605 1046.05,605.24 1047.11,605.48 1048.16,605.72 1049.22,605.97 1050.27,606.23 1051.33,606.48 1052.38,606.74 1053.44,607.01 1054.49,607.28 1055.55,607.55 1056.61,607.82 1057.66,608.1 1058.72,608.38 1059.77,608.66 1060.83,608.95 1061.88,609.23 1062.94,609.52 1063.99,609.81 1065.05,610.1 1066.11,610.4 1067.16,610.69 1068.22,610.99 1069.27,611.29 1070.33,611.58 1071.38,611.88 1072.44,612.18 1073.49,612.48 1074.55,612.79 1075.61,613.09 1076.66,613.39 1077.72,613.69 1078.77,613.99 1079.83,614.29 1080.88,614.59 1081.94,614.9 1082.99,615.2 1084.05,615.5 1085.11,615.8 1086.16,616.09 1087.22,616.39 1088.27,616.69 1089.33,616.99 1090.38,617.28 1091.44,617.57 1092.49,617.87 1093.55,618.16 1094.61,618.45 1095.66,618.74 1096.72,619.02 1097.77,619.31 1098.83,619.59 1099.88,619.87 1100.94,620.15 1101.99,620.43 1103.05,620.71 1104.11,620.98 1105.16,621.26 1106.22,621.53 1107.27,621.8 1108.33,622.06 1109.38,622.33 1110.44,622.59 1111.49,622.85 1112.55,623.11 1113.61,623.37 1114.66,623.62 1115.72,623.87 1116.77,624.12 1117.83,624.37 1118.88,624.61 1119.94,624.85 1120.99,625.09 1122.05,625.33 1123.11,625.57 1124.16,625.8 1125.22,626.03 1126.27,626.26 1127.33,626.48 1128.38,626.71 1129.44,626.93 1130.49,627.14 1131.55,627.36 1132.61,627.57 1133.66,627.78 1134.72,627.99 1135.77,628.2 1136.83,628.4 1137.88,628.6 1138.94,628.8 1139.99,628.99 1141.05,629.19 1142.11,629.38 1143.16,629.57 1144.22,629.75 1145.27,629.94 1146.33,630.12 1147.38,630.3 1148.44,630.47 1149.49,630.65 1150.55,630.82 1151.61,630.99 1152.66,631.15 1153.72,631.32 1154.77,631.48 1155.83,631.64 1156.88,631.8 1157.94,631.96 1158.99,632.11 1160.05,632.26 1161.11,632.41 1162.16,632.56 1163.22,632.7 1164.27,632.84 1165.33,632.99 1166.38,633.12 1167.44,633.26 1168.49,633.39 1169.55,633.53 1170.61,633.66 1171.66,633.78 1172.72,633.91 1173.77,634.04 1174.83,634.16 1175.88,634.28 1176.94,634.4 1177.99,634.51 1179.05,634.63 1180.11,634.74 1181.16,634.85 1182.22,634.96 1183.27,635.07 1184.33,635.18 1185.38,635.28 1186.44,635.38 1187.49,635.48 1188.55,635.58 1189.61,635.68 1190.66,635.78 1191.72,635.87 1192.77,635.96 1193.83,636.05 1194.88,636.14 1195.94,636.23 1196.99,636.32 1198.05,636.4 1199.11,636.49 1200.16,636.57 1201.22,636.65 1202.27,636.73 1203.33,636.81 1204.38,636.88 1205.44,636.96 1206.49,637.03 1207.55,637.1 1208.61,637.18 1209.66,637.25 1210.72,637.32 1211.77,637.38 1212.83,637.45 1213.88,637.51 1214.94,637.58 1215.99,637.64 1217.05,637.7 1218.11,637.76 1219.16,637.82 1220.22,637.88 1221.27,637.94 1222.33,638 1223.38,638.05 1224.44,638.11 1225.49,638.16 1226.55,638.21 1227.6,638.26 1228.66,638.31 1229.72,638.36 1230.77,638.41 1231.83,638.46 1232.88,638.51 1233.94,638.55 1234.99,638.6 1236.05,638.64 1237.1,638.68 1238.16,638.73 1239.22,638.77 1240.27,638.81 1241.33,638.85 1242.38,638.89 1243.44,638.93 1244.49,638.96 1245.55,639 1246.6,639.04 1247.66,639.07 1248.72,639.11 1249.77,639.14 1250.83,639.18 1251.88,639.21 1252.94,639.24 1253.99,639.27 1255.05,639.31 1256.1,639.34 1257.16,639.37 1258.22,639.4 1259.27,639.42 1260.33,639.45 1261.38,639.48 1262.44,639.51 1263.49,639.53 1264.55,639.56 1265.6,639.59 1266.66,639.61 1267.72,639.64 1268.77,639.66 1269.83,639.68 1270.88,639.71 1271.94,639.73 1272.99,639.75 1274.05,639.77" fill="none" stroke="#14468c" stroke-width="2" stroke-dasharray="15.5 12.5"/>
<path d="M784.27 640.8v-5 M784.27 11.5v5 M798.35 640.8v-5 M798.35 11.5v5 M812.42 640.8v-5 M812.42 11.5v5 M826.5 640.8v-5 M826.5 11.5v5 M840.57 640.8v-10 M840.57 11.5v10 M854.64 640.8v-5 M854.64 11.5v5 M868.72 640.8v-5 M868.72 11.5v5 M882.79 640.8v-5 M882.79 11.5v5 M896.87 640.8v-5 M896.87 11.5v5 M910.94 640.8v-10 M910.94 11.5v10 M925.01 640.8v-5 M925.01 11.5v5 M939.09 640.8v-5 M939.09 11.5v5 M953.16 640.8v-5 M953.16 11.5v5 M967.24 640.8v-5 M967.24 11.5v5 M981.31 640.8v-10 M981.31 11.5v10 M995.38 640.8v-5 M995.38 11.5v5 M1009.46 640.8v-5 M1009.46 11.5v5 M1023.53 640.8v-5 M1023.53 11.5v5 M1037.61 640.8v-5 M1037.61 11.5v5 M1051.68 640.8v-10 M1051.68 11.5v10 M1065.75 640.8v-5 M1065.75 11.5v5 M1079.83 640.8v-5 M1079.83 11.5v5 M1093.9 640.8v-5 M1093.9 11.5v5 M1107.98 640.8v-5 M1107.98 11.5v5 M1122.05 640.8v-10 M1122.05 11.5v10 M1136.12 640.8v-5 M1136.12 11.5v5 M1150.2 640.8v-5 M1150.2 11.5v5 M1164.27 640.8v-5 M1164.27 11.5v5 M1178.35 640.8v-5 M1178.35 11.5v5 M1192.42 640.8v-10 M1192.42 11.5v10 M1206.49 640.8v-5 M1206.49 11.5v5 M1220.57 640.8v-5 M1220.57 11.5v5 M1234.64 640.8v-5 M1234.64 11.5v5 M1248.72 640.8v-5 M1248.72 11.5v5 M1262.79 640.8v-10 M1262.79 11.5v10 M1276.86 640.8v-5 M1276.86 11.5v5 M1290.94 640.8v-5 M1290.94 11.5v5 M1305.01 640.8v-5 M1305.01 11.5v5 M1319.09 640.8v-5 M1319.09 11.5v5 M770.2 615.63h5 M1333.16 615.63h-5 M770.2 590.46h5 M1333.16 590.46h-5 M770.2 565.28h5 M1333.16 565.28h-5 M770.2 540.11h5 M1333.16 540.11h-5 M770.2 514.94h10 M1333.16 514.94h-10 M770.2 489.77h5 M1333.16 489.77h-5 M770.2 464.6h5 M1333.16 464.6h-5 M770.2 439.42h5 M1333.16 439.42h-5 M770.2 414.25h5 M1333.16 414.25h-5 M770.2 389.08h10 M1333.16 389.08h-10 M770.2 363.91h5 M1333.16 363.91h-5 M770.2 338.74h5 M1333.16 338.74h-5 M770.2 313.56h5 M1333.16 313.56h-5 M770.2 288.39h5 M1333.16 288.39h-5 M770.2 263.22h10 M1333.16 263.22h-10 M770.2 238.05h5 M1333.16 238.05h-5 M770.2 212.88h5 M1333.16 212.88h-5 M770.2 187.7h5 M1333.16 187.7h-5 M770.2 162.53h5 M1333.16 162.53h-5 M770.2 137.36h10 M1333.16 137.36h-10 M770.2 112.19h5 M1333.16 112.19h-5 M770.2 87.02h5 M1333.16 87.02h-5 M770.2 61.84h5 M1333.16 61.84h-5 M770.2 36.67h5 M1333.16 36.67h-5" stroke="#000" stroke-width="2" fill="none"/>
<rect x="770.2" y="11.5" width="562.96" height="629.3" fill="none" stroke="#000" stroke-width="2"/>
<g font-size="31.5"><text transform="translate(770.2,676) scale(1,1.07)" text-anchor="middle">0</text><text transform="translate(840.57,676) scale(1,1.07)" text-anchor="middle">10</text><text transform="translate(910.94,676) scale(1,1.07)" text-anchor="middle">20</text><text transform="translate(981.31,676) scale(1,1.07)" text-anchor="middle">30</text><text transform="translate(1051.68,676) scale(1,1.07)" text-anchor="middle">40</text><text transform="translate(1122.05,676) scale(1,1.07)" text-anchor="middle">50</text><text transform="translate(1192.42,676) scale(1,1.07)" text-anchor="middle">60</text><text transform="translate(1262.79,676) scale(1,1.07)" text-anchor="middle">70</text><text transform="translate(1333.16,676) scale(1,1.07)" text-anchor="middle">80</text><text transform="translate(760.9,651.5) scale(1,1.07)" text-anchor="end">0</text><text transform="translate(760.9,525.64) scale(1,1.07)" text-anchor="end">0.5</text><text transform="translate(760.9,399.78) scale(1,1.07)" text-anchor="end">1.0</text><text transform="translate(760.9,273.92) scale(1,1.07)" text-anchor="end">1.5</text><text transform="translate(760.9,148.06) scale(1,1.07)" text-anchor="end">2.0</text><text transform="translate(760.9,22.2) scale(1,1.07)" text-anchor="end">2.5</text></g>
<text transform="translate(1051.98,711.6) scale(1,1.035)" text-anchor="middle" font-weight="bold" font-size="34.3">LENGTH (nm)</text>
<text transform="translate(708.6,617.5) rotate(-90)" font-weight="bold" font-size="35">AREAL DOT DENSITY <tspan dx="-2.5">(</tspan><tspan font-weight="normal" dx="6.5">×</tspan><tspan dx="8.3">10</tspan><tspan font-size="23" dy="-12" dx="-1.8">11</tspan><tspan dy="12" dx="1.5"> c</tspan><tspan dx="1.5">m</tspan><tspan font-size="23" dy="-14" dx="2.6">-</tspan><tspan font-size="23" dx="0.5">2</tspan><tspan dy="14" dx="0.5">)</tspan></text>
<g transform="translate(1062.6,267)" clip-path="url(#ic)">
<use href="#sem"/>
<ellipse cx="117.6" cy="113.8" rx="32.5" ry="21.3" fill="none" stroke="#ff8000" stroke-width="3" stroke-dasharray="23.5 18.85"/>
<path d="M40.5 112.7H62" stroke="#0000ff" stroke-width="3"/>
<path d="M59.5 104.5L59.5 120.9L84 112.7Z" fill="#0000ff"/>
<path d="M175 112.7H192.7" stroke="#0000ff" stroke-width="3"/>
<path d="M177.8 104.5L177.8 120.9L153.4 112.7Z" fill="#0000ff"/>
</g>
<text x="1282.7" y="70.8" font-size="33">(b)</text>
<text x="858.5" y="136.2" font-size="28" font-weight="bold" font-style="italic" fill="#c800c8">CVD Time: 30 sec</text>
<text x="1045.4" y="237.8" font-size="38" font-weight="bold" font-style="italic" fill="#0000ff">Width <tspan dx="-3">Direction</tspan></text>
<text x="909" y="476.5" font-size="28" font-weight="bold" font-style="italic" fill="#e66e0a">: 60 sec</text>
<text x="930.5" y="532" font-size="28" font-weight="bold" font-style="italic" fill="#00c000">: 100 sec</text>
<text x="1081.3" y="599.2" font-size="28" font-weight="bold" font-style="italic" fill="#0060d0">: 150 sec</text>
</svg>
</body></html>
